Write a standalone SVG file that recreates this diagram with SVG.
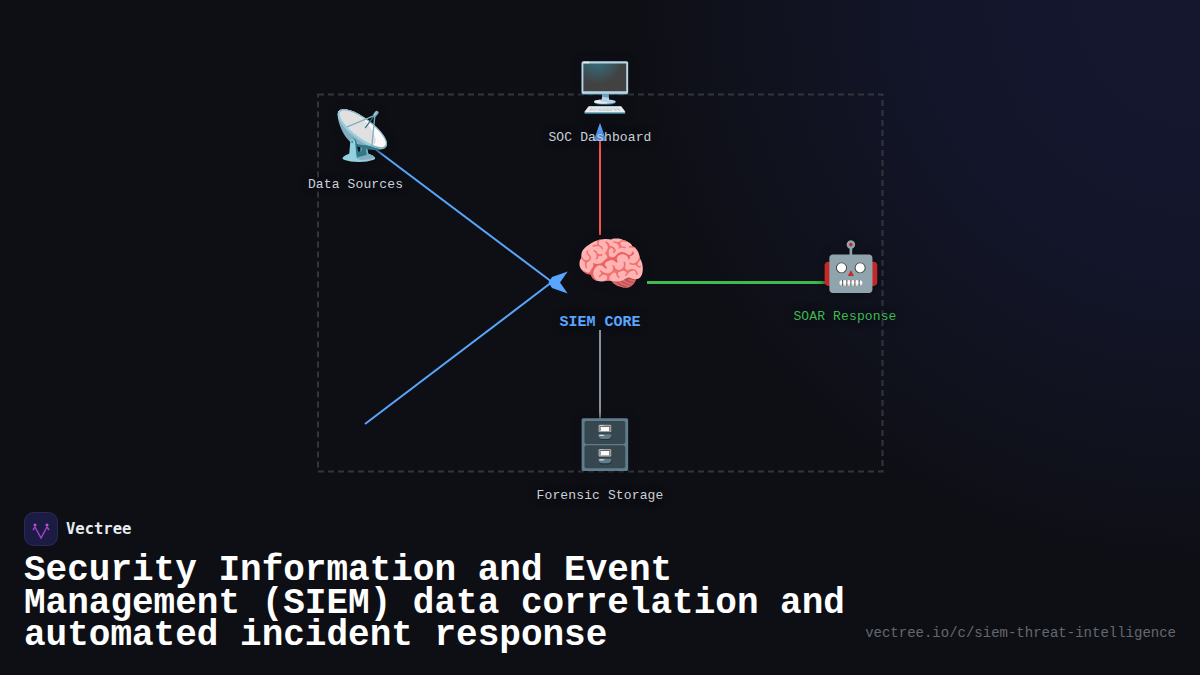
<svg xmlns="http://www.w3.org/2000/svg" width="1200" height="675" viewBox="0 0 1200 675">
<style>
text{opacity:.999}
.l{font-family:"Liberation Mono",monospace;font-size:13px;letter-spacing:.13px;fill:#c9d1d9;text-anchor:middle;text-shadow:0 0 8px #0d0e14}
.e{font-family:"Noto Color Emoji","Liberation Sans",sans-serif;text-anchor:middle;text-shadow:0 0 8px #0d0e14}
.t{font-family:"Liberation Mono",monospace;font-size:36px;font-weight:700;fill:#fff}
.c{fill:none;stroke-width:2}
.h{fill:#58a6ff}
</style>
<defs>
<radialGradient id="g" gradientUnits="userSpaceOnUse" cx="1200" cy="0" r="570">
<stop offset="0" stop-color="#14172e"/><stop offset=".45" stop-color="#13162b"/><stop offset="1" stop-color="#0e0f15"/>
</radialGradient>
</defs>
<rect width="1200" height="675" fill="url(#g)"/>
<rect x="318" y="94.500" width="564.500" height="377" fill="none" stroke="#30363d" stroke-width="2" stroke-dasharray="6 4"/>
<g id="connectors">
<path class="c" d="M375 149L552 282" stroke="#58a6ff"/>
<path class="c" d="M365 424L552 282" stroke="#58a6ff"/>
<path class="h" d="M548.500 282.500L552 277L567.700 271.500L560 282.500L567.700 293.500L552 288Z"/>
<path class="c" d="M600 235V140" stroke="#f85149"/>
<path class="h" d="M600 123L606.500 141H593.500Z"/>
<path class="c" d="M647 282.500H830" stroke="#3fb950" style="stroke-width:3"/>
<path class="c" d="M600 330V420" stroke="#8b949e"/>
</g>
<g id="data-sources"><text class="e" x="362" y="151.600" font-size="48">📡</text><text class="l" x="355.500" y="188">Data Sources</text></g>
<g id="soc-dashboard"><text class="e" x="605.500" y="103.600" font-size="48">🖥️</text><text class="l" x="600" y="141">SOC Dashboard</text></g>
<g id="siem-core"><text class="e" x="611.500" y="283.500" font-size="58">🧠</text><text x="600" y="326" text-anchor="middle" style="font-family:'Liberation Mono',monospace;font-size:15px;font-weight:700;fill:#58a6ff;text-shadow:0 0 8px #0d0e14">SIEM CORE</text></g>
<g id="soar-response"><text class="e" x="851" y="282.600" font-size="48">🤖</text><text class="l" x="845" y="320" style="fill:#3fb950">SOAR Response</text></g>
<g id="forensic-storage"><text class="e" x="605.500" y="460.600" font-size="48">🗄️</text><text class="l" x="600" y="499">Forensic Storage</text></g>
<g id="brand">
<rect x="24.500" y="512.500" width="33" height="33" rx="9" fill="#1c1b44" stroke="#2a2a55"/>
<path d="M35 527L41 538L47 527M35 527L33 530M47 527L49 530" fill="none" stroke="#a43fd0" stroke-width="1.500"/>
<circle cx="35" cy="525" r="1.500" fill="#c050e0"/><circle cx="47" cy="525" r="1.500" fill="#c050e0"/>
<text x="66" y="534" style="font-family:'DejaVu Sans Mono',monospace;font-size:15.500px;font-weight:700;fill:#e6edf3">Vectree</text>
</g>
<g id="title"><text class="t" x="24" y="580.300">Security Information and Event</text><text class="t" x="24" y="612.700">Management (SIEM) data correlation and</text><text class="t" x="24" y="645.100">automated incident response</text></g>
<text x="1176" y="637" text-anchor="end" style="font-family:'Liberation Mono',monospace;font-size:14px;fill:#636870">vectree.io/c/siem-threat-intelligence</text>
</svg>
